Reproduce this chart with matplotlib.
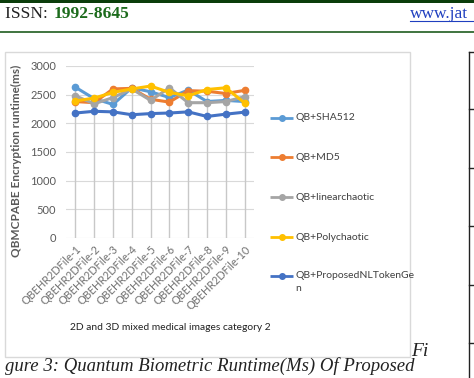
import matplotlib
matplotlib.use("Agg")
import matplotlib.pyplot as plt
from matplotlib.lines import Line2D

# chart values
files = ["QBEHR2DFile-%d" % i for i in range(1, 11)]
sha512 = [2630, 2430, 2330, 2620, 2550, 2450, 2580, 2380, 2400, 2380]
md5 = [2380, 2360, 2600, 2610, 2420, 2370, 2570, 2560, 2520, 2575]
linear = [2480, 2340, 2450, 2600, 2400, 2620, 2360, 2360, 2380, 2465]
poly = [2390, 2440, 2540, 2600, 2650, 2540, 2480, 2590, 2620, 2355]
proposed = [2180, 2210, 2200, 2150, 2170, 2180, 2200, 2120, 2160, 2195]
names = ["QB+SHA512", "QB+MD5", "QB+linearchaotic", "QB+Polychaotic",
         "QB+ProposedNLTokenGe\nn"]
colors = ["#5b9bd5", "#ed7d31", "#a5a5a5", "#ffc000", "#4472c4"]
yticks = [0, 500, 1000, 1500, 2000, 2500, 3000]

W, H = 474, 378
fig = plt.figure(figsize=(W / 100, H / 100), dpi=100)


def fx(px):
    return px / W


def fy(py):
    return 1 - py / H


# page decorations (header, frame, side table, caption)
fig.add_artist(plt.Rectangle((0, fy(3)), 1, 3 / H, color="#0b3d0b", lw=0))
fig.add_artist(Line2D([0, 1], [fy(31.5), fy(31.5)], color="#1f5c1f", lw=1.2))
fig.text(fx(5), fy(14), "ISSN: ", family="Liberation Serif", fontsize=12.5,
         va="center", color="#222222")
fig.text(fx(54), fy(14), "1992-8645", family="Liberation Serif", fontsize=12.5,
         va="center", color="#1c6b1c", weight="bold")
fig.text(fx(410), fy(14), "www.jat", family="Liberation Serif", fontsize=12.5,
         va="center", color="#1f3fbf")
fig.add_artist(Line2D([fx(410), fx(474)], [fy(21), fy(21)], color="#1f3fbf", lw=0.8))
fig.add_artist(plt.Rectangle((fx(5), fy(357)), fx(405), (357 - 52) / H,
                             fill=False, ec="#d9d9d9", lw=1))
fig.add_artist(Line2D([fx(469), fx(469)], [fy(52), 0], color="#222222", lw=1))
for yy in [52, 109, 168, 226, 285, 343]:
    fig.add_artist(Line2D([fx(469), 1], [fy(yy), fy(yy)], color="#222222", lw=1))
fig.text(fx(411), fy(352), "Fi", family="Liberation Serif", style="italic",
         fontsize=14, va="center", color="#222222")
fig.text(fx(5), fy(366.5), "gure 3: Quantum Biometric Runtime(Ms) Of Proposed",
         family="Liberation Serif", style="italic", fontsize=13.5,
         va="center", color="#222222")

# chart
ax = fig.add_axes([fx(66), fy(238), fx(254 - 66), (238 - 66) / H])
x = list(range(1, 11))
series = [sha512, md5, linear, poly, proposed]
tops = [max(v) for v in zip(*series)]
ax.vlines(x, 0, tops, color="#c8c8c8", lw=1, zorder=1)
for vals, c, n in zip(series, colors, names):
    ax.plot(x, vals, color=c, lw=2.2, marker="o", ms=4.5, label=n, zorder=3)
ax.set_xlim(0.5, 10.5)
ax.set_ylim(0, 3000)
ax.set_yticks(yticks)
ax.grid(axis="y", color="#d9d9d9", lw=0.8)
ax.set_axisbelow(True)
for s in ax.spines.values():
    s.set_visible(False)
ax.tick_params(axis="y", length=0, labelsize=8, labelcolor="#595959", pad=7)
ax.tick_params(axis="x", length=0, labelsize=7.8, labelcolor="#707070", pad=4)
ax.set_xticks(x)
ax.set_xticklabels(files, rotation=45, ha="right", rotation_mode="anchor",
                   family="Lato")
for t in ax.get_yticklabels():
    t.set_family("Lato")
ax.set_ylabel("QBMCPABE Encryption runtime(ms)", fontsize=8.5, weight="bold",
              color="#595959", family="Lato")
ax.yaxis.set_label_coords(-0.235, 0.45)

fig.text(fx(70), fy(328), "2D and 3D mixed medical images category 2",
         fontsize=7.4, color="#222222", family="Lato", va="center")

leg_y = [118, 157, 197, 237, 276]
for vals, c, n, yy in zip(series, colors, names, leg_y):
    fig.add_artist(Line2D([fx(270), fx(281.5), fx(293)], [fy(yy)] * 3, color=c,
                          lw=2, marker="o", ms=4, markevery=[1],
                          solid_capstyle="butt"))
    fig.text(fx(295), fy(yy - 5) if "\n" in n else fy(yy), n, fontsize=7.5,
             color="#404040", family="Lato",
             va="top" if "\n" in n else "center", linespacing=1.6)

fig.savefig("out.png", dpi=100)
